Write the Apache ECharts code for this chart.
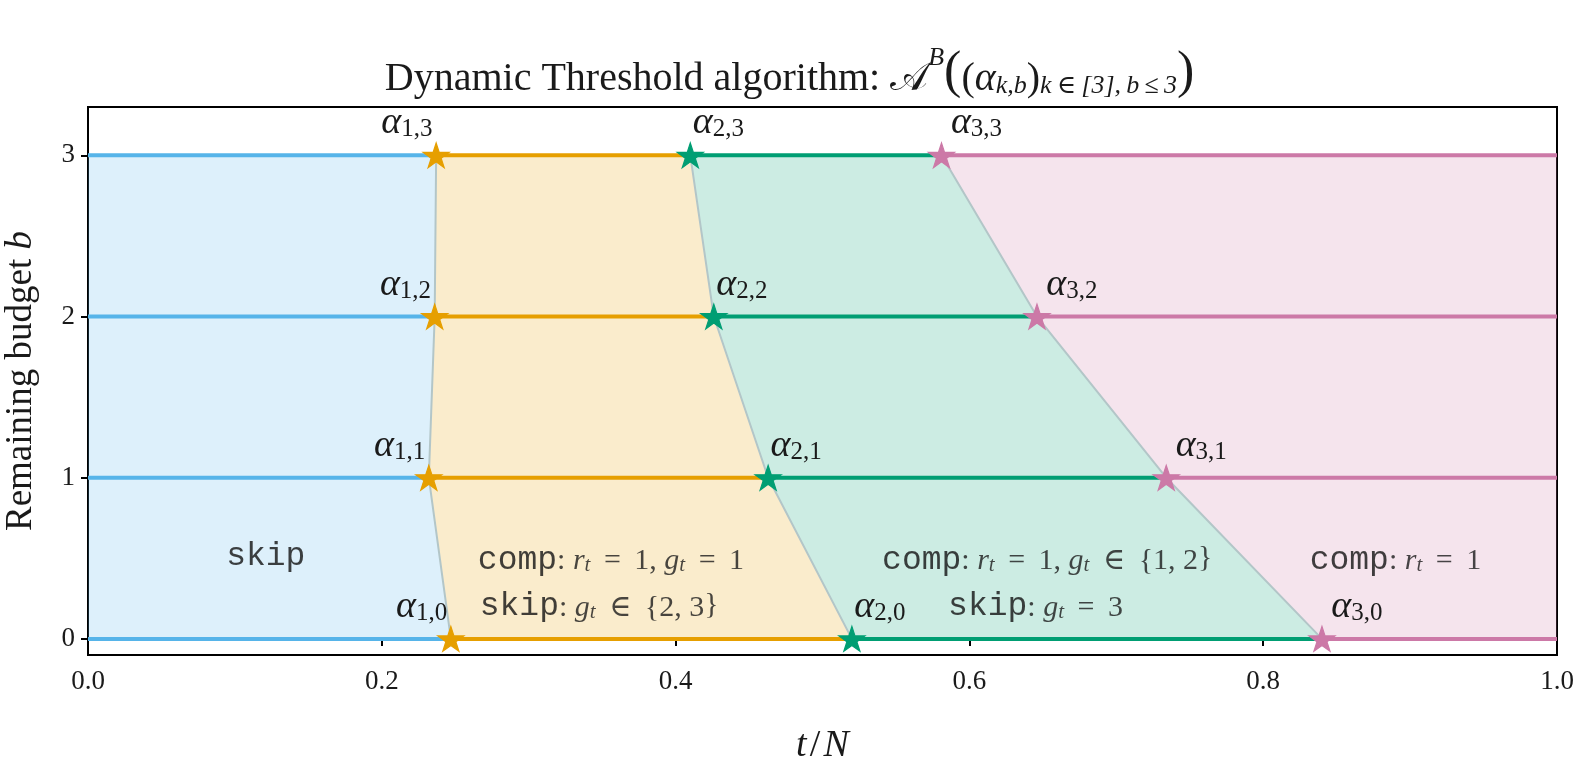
<!DOCTYPE html>
<html>
<head>
<meta charset="utf-8">
<script src="https://cdn.jsdelivr.net/npm/echarts@6/dist/echarts.min.js"></script>
<style>html,body{margin:0;padding:0;background:#fff;}#chart{width:1579px;height:758px;}</style>
</head>
<body>
<div id="chart"></div>
<script>
// ---- data ----
const budgetLevels = [0, 1, 2, 3];
const alpha1 = [0.247, 0.232, 0.236, 0.237];   // alpha_{1,b}, b = 0..3
const alpha2 = [0.520, 0.463, 0.426, 0.410];   // alpha_{2,b}
const alpha3 = [0.840, 0.734, 0.646, 0.581];   // alpha_{3,b}
const xTicks = [0.0, 0.2, 0.4, 0.6, 0.8, 1.0];
const yTicks = [0, 1, 2, 3];
const regionTextX = [0.121, 0.356, 0.348, 0.653, 0.645, 0.890];
const regionTextY = [0.52, 0.50, 0.21, 0.50, 0.21, 0.50];
const EQ = ' \u2009=\u2009 ';
const regionTexts = [
  '{m|skip}',
  '{m|comp}{n|: }{i|r}{s|t}{n|' + EQ + '1, }{i|g}{s|t}{n|' + EQ + '1}',
  '{m|skip}{n|: }{i|g}{s|t}{n| \u2009∈\u2009 {2, 3}}',
  '{m|comp}{n|: }{i|r}{s|t}{n|' + EQ + '1, }{i|g}{s|t}{n| \u2009∈\u2009 {1, 2}}',
  '{m|skip}{n|: }{i|g}{s|t}{n|' + EQ + '3}',
  '{m|comp}{n|: }{i|r}{s|t}{n|' + EQ + '1}'
];

const alphas = [alpha1, alpha2, alpha3];
const colors = ['#56B4E9', '#E69F00', '#009E73', '#CC79A7'];
const SERIF = '"Liberation Serif", "DejaVu Serif", serif';
const MONO = '"Liberation Mono", "DejaVu Sans Mono", monospace';
const INK = '#1a1a1a';

function rgba(hex, a) {
  const n = parseInt(hex.slice(1), 16);
  return `rgba(${(n >> 16) & 255},${(n >> 8) & 255},${n & 255},${a})`;
}
// five-pointed star symbol
function starPath() {
  const R = 10, r = 3.82;
  let d = '';
  for (let i = 0; i < 10; i++) {
    const ang = -Math.PI / 2 + i * Math.PI / 5;
    const rad = i % 2 === 0 ? R : r;
    d += (i === 0 ? 'M' : 'L') + (R + rad * Math.cos(ang)).toFixed(3) + ' ' + (R + rad * Math.sin(ang)).toFixed(3) + ' ';
  }
  return 'path://' + d + 'Z';
}
const STAR = starPath();

const series = [];

// shaded regions
series.push({
  type: 'custom',
  silent: true,
  z: 1,
  clip: true,
  data: colors.map((c, i) => [i, 0]),
  renderItem: function (params, api) {
    const k = params.dataIndex;
    const left = k === 0 ? budgetLevels.map(() => 0) : alphas[k - 1];
    const right = k === 3 ? budgetLevels.map(() => 1) : alphas[k];
    const pts = [];
    budgetLevels.forEach(b => pts.push(api.coord([left[b], b])));
    budgetLevels.slice().reverse().forEach(b => pts.push(api.coord([right[b], b])));
    return { type: 'polygon', shape: { points: pts }, style: { fill: rgba(colors[k], 0.2), stroke: null } };
  }
});

// boundary lines
alphas.forEach(arr => {
  series.push({
    type: 'line', silent: true, z: 2, showSymbol: false, symbol: 'none',
    data: budgetLevels.map(b => [arr[b], b]),
    lineStyle: { color: '#b3c6c8', width: 2 }
  });
});

// horizontal segments
budgetLevels.forEach(b => {
  const xs = [0, alpha1[b], alpha2[b], alpha3[b], 1];
  for (let s = 0; s < 4; s++) {
    series.push({
      type: 'line', silent: true, z: 3, showSymbol: false, symbol: 'none',
      data: [[xs[s], b], [xs[s + 1], b]],
      lineStyle: { color: colors[s], width: 4 }
    });
  }
});

// stars + labels
const labelOffsets = [[10, 0, 'right'], [16, 0, 'left'], [23, 0, 'left']];
alphas.forEach((arr, k) => {
  series.push({
    type: 'scatter', silent: true, z: 5,
    symbol: STAR, symbolSize: 26, symbolKeepAspect: true,
    itemStyle: { color: colors[k + 1], opacity: 1, borderColor: colors[k + 1], borderWidth: 1.2 },
    data: budgetLevels.map(b => [arr[b], b]),
    label: {
      show: true,
      position: [labelOffsets[k][0], labelOffsets[k][1]],
      align: labelOffsets[k][2],
      verticalAlign: 'bottom',
      formatter: p => `{a|α}{s|${k + 1},${p.value[1]}}`,
      rich: {
        a: { fontFamily: SERIF, fontStyle: 'italic', fontSize: 38, lineHeight: 38, color: INK, verticalAlign: 'bottom' },
        s: { fontFamily: SERIF, fontSize: 25, lineHeight: 16, color: INK, verticalAlign: 'bottom' }
      }
    }
  });
});

// region texts
series.push({
  type: 'scatter', silent: true, z: 6, symbolSize: 0,
  data: regionTextX.map((x, i) => [x, regionTextY[i], i]),
  label: {
    show: true, position: 'inside', align: 'center', verticalAlign: 'middle',
    fontFamily: SERIF, fontSize: 30, lineHeight: 36, color: INK,
    formatter: p => regionTexts[p.value[2]],
    rich: {
      m: { fontFamily: MONO, fontSize: 33, lineHeight: 36, color: '#111', verticalAlign: 'bottom' },
      n: { fontFamily: SERIF, fontSize: 30, lineHeight: 36, color: INK, verticalAlign: 'bottom' },
      i: { fontFamily: SERIF, fontStyle: 'italic', fontSize: 30, lineHeight: 36, color: INK, verticalAlign: 'bottom' },
      s: { fontFamily: SERIF, fontStyle: 'italic', fontSize: 21, lineHeight: 14, color: INK, verticalAlign: 'bottom' }
    }
  }
});

const option = {
  animation: false,
  backgroundColor: '#fff',
  title: {
    text: '{n|Dynamic Threshold algorithm: }{sc|𝒜}{sup|B}{bp|(}{n|(}{i|α}{sub|k,b}{n|)}{sub|k\u2009∈\u2009[3],\u2009b\u2009≤\u20093}{bp|)}',
    left: 'center', top: 45, padding: [0, 0, 0, 75],
    textStyle: {
      fontWeight: 'normal', fontFamily: SERIF, fontSize: 40, color: INK,
      rich: {
        n: { fontFamily: SERIF, fontWeight: 'normal', fontSize: 40, lineHeight: 42, color: INK, verticalAlign: 'bottom' },
        sc: { fontFamily: SERIF, fontWeight: 'normal', fontSize: 40, lineHeight: 42, color: INK, verticalAlign: 'bottom' },
        i: { fontFamily: SERIF, fontWeight: 'normal', fontStyle: 'italic', fontSize: 40, lineHeight: 42, color: INK, verticalAlign: 'bottom' },
        sup: { fontFamily: SERIF, fontWeight: 'normal', fontStyle: 'italic', fontSize: 26, lineHeight: 38, color: INK, verticalAlign: 'top' },
        sub: { fontFamily: SERIF, fontWeight: 'normal', fontStyle: 'italic', fontSize: 26, lineHeight: 16, color: INK, verticalAlign: 'bottom' },
        bp: { fontFamily: SERIF, fontWeight: 'normal', fontSize: 52, lineHeight: 54, color: INK, verticalAlign: 'bottom' }
      }
    }
  },
  grid: { left: 88, right: 22, top: 107, bottom: 103, show: true, borderColor: '#000', borderWidth: 2, backgroundColor: 'transparent', containLabel: false, outerBoundsMode: 'none' },
  xAxis: {
    type: 'value', min: 0, max: 1, interval: 0.2,
    name: '{i|t}{n|\u200a/\u200a}{i|N}', nameLocation: 'middle', nameGap: 72,
    nameTextStyle: {
      rich: {
        i: { fontFamily: SERIF, fontStyle: 'italic', fontSize: 38, color: INK },
        n: { fontFamily: SERIF, fontSize: 38, color: INK }
      }
    },
    axisLine: { show: true, lineStyle: { color: '#000', width: 2 } },
    axisTick: { show: true, length: 7, lineStyle: { color: '#000', width: 2 } },
    axisLabel: { show: true, margin: 13, fontFamily: SERIF, fontSize: 27, color: INK, formatter: v => v.toFixed(1), customValues: xTicks },
    splitLine: { show: false }
  },
  yAxis: {
    type: 'value', min: -0.1, max: 3.3,
    name: 'Remaining budget {i|b}', nameLocation: 'middle', nameGap: 48, nameRotate: 90,
    nameTextStyle: {
      fontFamily: SERIF, fontSize: 37, color: INK,
      rich: { i: { fontFamily: SERIF, fontStyle: 'italic', fontSize: 37, color: INK } }
    },
    axisLine: { show: true, lineStyle: { color: '#000', width: 2 } },
    axisTick: { show: true, length: 7, lineStyle: { color: '#000', width: 2 }, customValues: yTicks },
    axisLabel: { show: true, margin: 13, fontFamily: SERIF, fontSize: 27, color: INK, customValues: yTicks, formatter: v => String(v) },
    splitLine: { show: false }
  },
  series: series
};

const chart = echarts.init(document.getElementById('chart'));
chart.setOption(option);
</script>
</body>
</html>
